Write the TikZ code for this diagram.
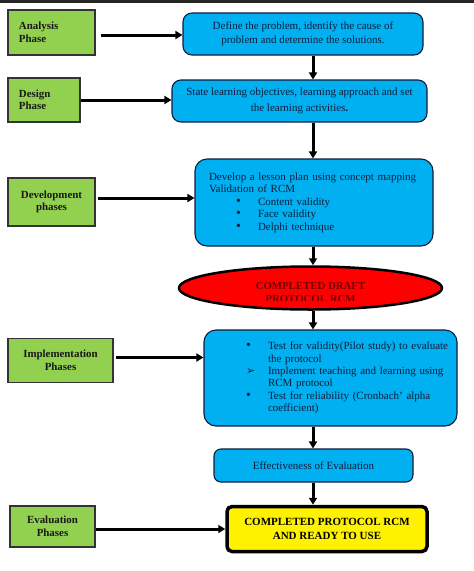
\documentclass[tikz,border=0pt]{standalone}
\usepackage{fontspec}
\setmainfont{Liberation Serif}
\newfontfamily\symfont{DejaVu Sans}
\usetikzlibrary{shapes.geometric,arrows.meta}
\definecolor{phgreen}{RGB}{146,208,80}
\definecolor{stblue}{RGB}{0,176,240}
\definecolor{navy}{RGB}{16,28,60}
\definecolor{darkred}{RGB}{110,0,0}
\newcommand{\bul}{\makebox[22pt][l]{\fontsize{14}{10}\selectfont\textbullet}}
\begin{document}
\begin{tikzpicture}[x=1pt,y=-1pt,
 phase/.style={draw=black!80, line width=1.2pt, fill=phgreen, font=\fontsize{10.9}{12.5}\selectfont\bfseries, text=black!90, inner sep=0pt},
 stepbox/.style={draw=navy, line width=1.1pt, fill=stblue, rounded corners=9pt, text=navy, font=\fontsize{11}{13}\selectfont, inner sep=0pt},
 arr/.style={line width=3pt, -{Triangle[length=7pt,width=8pt]}}]
\useasboundingbox (0,0) rectangle (474,571);
\fill[black!85] (0,0) rectangle (474,2.5);

% phase boxes
\node[phase, minimum width=87pt, minimum height=45pt, text width=65pt, align=left] (an) at (51.5,32.5) {Analysis\\Phase};
\node[phase, minimum width=72pt, minimum height=44pt, text width=50pt, align=left] (de) at (44,100) {Design\\Phase};
\node[phase, minimum width=87pt, minimum height=48pt, align=center] (dv) at (51.5,202) {Development\\phases};
\node[phase, minimum width=105pt, minimum height=44pt, align=center] (im) at (60.5,360.5) {Implementation\\Phases};
\node[phase, minimum width=85pt, minimum height=41pt, align=center] (ev) at (52.5,526.5) {Evaluation\\Phases};

% step boxes
\node[stepbox, minimum width=240pt, minimum height=42pt, align=center, font=\fontsize{11}{14}\selectfont] (b1) at (303,34) {Define the problem, identify the cause of\\problem and determine the solutions.};
\node[stepbox, minimum width=255pt, minimum height=42pt, align=center, font=\fontsize{11}{16}\selectfont] (b2) at (299.5,101) {State learning objectives, learning approach and set\\the learning activities\textbf{.}};
\node[stepbox, rounded corners=12pt, minimum width=238pt, minimum height=87pt, text width=238pt, align=left, font=\fontsize{11}{12.5}\selectfont] (b3) at (314,202.5) {\hspace*{14pt}Develop a lesson plan using concept mapping\\
\hspace*{14pt}Validation of RCM\\
\hspace*{41pt}\bul Content validity\\
\hspace*{41pt}\bul Face validity\\
\hspace*{41pt}\bul Delphi technique};

\node[ellipse, draw=black, line width=2.5pt, fill=red, minimum width=263pt, minimum height=43pt, inner sep=0pt] (el) at (310.5,288) {};
\begin{scope}
\clip (150,268) rectangle (470,300.5);
\node[font=\fontsize{10.8}{13}\selectfont\bfseries, text=darkred, align=center, inner sep=0pt] (elt) at (310.5,292) {COMPLETED DRAFT\\PROTOCOL RCM};
\end{scope}

\node[stepbox, rounded corners=12pt, minimum width=253pt, minimum height=96pt, text width=253pt, align=left, font=\fontsize{11}{12.3}\selectfont] (b4) at (330.5,378) {\hspace*{42pt}\bul Test for validity(Pilot study) to evaluate\\
\hspace*{64pt}the protocol\\
\hspace*{42pt}\makebox[22pt][l]{\symfont\fontsize{11}{10}\selectfont ➢}Implement teaching and learning using\\
\hspace*{64pt}RCM protocol\\
\hspace*{42pt}\bul Test for reliability (Cronbach' alpha\\
\hspace*{64pt}coefficient)};

\node[stepbox, rounded corners=7pt, minimum width=199pt, minimum height=33pt] (b5) at (313.5,465.5) {Effectiveness of Evaluation};

\node[draw=black, line width=3.5pt, fill=yellow, rounded corners=5pt, minimum width=200pt, minimum height=45pt, align=center, font=\fontsize{11}{13.5}\selectfont\bfseries, inner sep=0pt] (fin) at (327,529) {COMPLETED PROTOCOL RCM\\AND READY TO USE};

% vertical connectors
\coordinate (ax) at (313,0);
\draw[arr] (b1.south -| ax) -- (b2.north -| ax);
\draw[arr] (b2.south -| ax) -- (b3.north -| ax);
\draw[arr] (b3.south -| ax) -- (el.north -| ax);
\draw[arr] (el.south -| ax) -- (b4.north -| ax);
\draw[arr] (b4.south -| ax) -- (b5.north -| ax);
\draw[arr] (b5.south -| ax) -- (fin.north -| ax);

% horizontal connectors
\draw[arr] ([xshift=5pt,yshift=-2.5pt]an.east) -- ([yshift=-2.5pt]an.east -| b1.west);
\draw[arr] (de.east) -- (de.east -| b2.west);
\draw[arr] ([xshift=2pt,yshift=4pt]dv.east) -- ([yshift=4pt]dv.east -| b3.west);
\draw[arr] ([xshift=2pt,yshift=3pt]im.east) -- ([yshift=3pt]im.east -| b4.west);
\draw[arr] ([yshift=-2.5pt]ev.east) -- ([yshift=-2.5pt]ev.east -| fin.west);
\end{tikzpicture}
\end{document}
